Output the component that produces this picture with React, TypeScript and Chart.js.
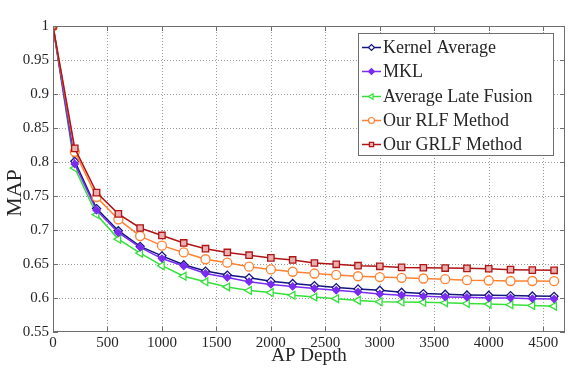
import React, { useEffect, useRef } from "react";
import { Chart, registerables } from "chart.js";
import { drawPoint } from "chart.js/helpers";

Chart.register(...registerables);

const depths = [0, 200, 400, 600, 800, 1000, 1200, 1400, 1600, 1800, 2000, 2200, 2400, 2600, 2800, 3000, 3200, 3400, 3600, 3800, 4000, 4200, 4400, 4600];
const kernelAverage = [1.0, 0.801, 0.7315, 0.699, 0.676, 0.662, 0.649, 0.6396, 0.6337, 0.6297, 0.6248, 0.6213, 0.6183, 0.6153, 0.6134, 0.6114, 0.6084, 0.6065, 0.6055, 0.6045, 0.604, 0.6035, 0.603, 0.6025];
const mkl = [1.0, 0.797, 0.729, 0.696, 0.6745, 0.658, 0.647, 0.636, 0.63, 0.624, 0.62, 0.617, 0.614, 0.6114, 0.609, 0.606, 0.604, 0.6025, 0.6015, 0.601, 0.6, 0.6, 0.599, 0.5985];
const averageLateFusion = [1.0, 0.791, 0.7227, 0.6866, 0.666, 0.6475, 0.632, 0.6238, 0.6163, 0.611, 0.608, 0.604, 0.6015, 0.599, 0.5965, 0.5945, 0.594, 0.5936, 0.593, 0.592, 0.591, 0.59, 0.589, 0.588];
const rlf = [1.0, 0.815, 0.7485, 0.7155, 0.691, 0.677, 0.667, 0.657, 0.652, 0.646, 0.642, 0.6386, 0.636, 0.634, 0.632, 0.6307, 0.6297, 0.6287, 0.6277, 0.6262, 0.6257, 0.625, 0.625, 0.6247];
const grlf = [1.0, 0.82, 0.755, 0.7237, 0.703, 0.692, 0.681, 0.6725, 0.667, 0.663, 0.659, 0.656, 0.6515, 0.6495, 0.6475, 0.6466, 0.645, 0.6445, 0.644, 0.6436, 0.643, 0.6417, 0.641, 0.6407];

const seriesLabels = ["Kernel Average", "MKL", "Average Late Fusion", "Our RLF Method", "Our GRLF Method"];
const xTicks = [0, 500, 1000, 1500, 2000, 2500, 3000, 3500, 4000, 4500];
const xTitle = "AP Depth";
const yTitle = "MAP";

const FONT = "'Liberation Serif', 'Times New Roman', serif";
const TEXT = "#262626";

const styles = [
  { color: "#14147f", fill: "#ffffff", pointStyle: "rectRot", radius: 4, rotation: 0, order: 4 },
  { color: "#7a2cf0", fill: "#7a2cf0", pointStyle: "rectRot", radius: 3.5, rotation: 0, order: 3 },
  { color: "#35e03a", fill: "#ffffff", pointStyle: "triangle", radius: 4.5, rotation: -90, order: 5 },
  { color: "#ff8232", fill: "#ffffff", pointStyle: "circle", radius: 4.5, rotation: 0, order: 2 },
  { color: "#b01414", fill: "#e8b0b0", pointStyle: "rect", radius: 4.5, rotation: 0, order: 1 },
];

const gridPlugin = {
  id: "dottedGrid",
  beforeDatasetsDraw(chart: any) {
    const { ctx, chartArea } = chart;
    const { left, right, top, bottom } = chartArea;
    const xs = chart.scales.x;
    const ys = chart.scales.y;
    ctx.save();
    ctx.strokeStyle = "#9c9c9c";
    ctx.lineWidth = 1;
    ctx.setLineDash([1, 2]);
    ctx.beginPath();
    xs.ticks.forEach((t: any) => {
      const px = Math.round(xs.getPixelForValue(t.value)) + 0.5;
      if (px <= left + 1 || px >= right - 1) return;
      ctx.moveTo(px, top);
      ctx.lineTo(px, bottom);
    });
    ys.ticks.forEach((t: any) => {
      const py = Math.round(ys.getPixelForValue(t.value)) + 0.5;
      if (py <= top + 1 || py >= bottom - 1) return;
      ctx.moveTo(left, py);
      ctx.lineTo(right, py);
    });
    ctx.stroke();
    ctx.restore();
  },
};

const frameAndLegend = {
  id: "frameAndLegend",
  afterDraw(chart: any) {
    const { ctx, chartArea } = chart;
    const { left, right, top, bottom } = chartArea;
    ctx.save();
    ctx.strokeStyle = "#6e6e6e";
    ctx.lineWidth = 1;
    ctx.setLineDash([]);
    ctx.strokeRect(left + 0.5, top + 0.5, right - left - 1, bottom - top - 1);
    const xs = chart.scales.x;
    const ys = chart.scales.y;
    ctx.beginPath();
    xs.ticks.forEach((t: any) => {
      const px = Math.round(xs.getPixelForValue(t.value)) + 0.5;
      ctx.moveTo(px, bottom);
      ctx.lineTo(px, bottom - 5);
      ctx.moveTo(px, top);
      ctx.lineTo(px, top + 5);
    });
    ys.ticks.forEach((t: any) => {
      const py = Math.round(ys.getPixelForValue(t.value)) + 0.5;
      ctx.moveTo(left, py);
      ctx.lineTo(left + 5, py);
      ctx.moveTo(right, py);
      ctx.lineTo(right - 5, py);
    });
    ctx.stroke();

    // y-axis title
    ctx.save();
    ctx.translate(15, (top + bottom) / 2 + 14);
    ctx.rotate(-Math.PI / 2);
    ctx.font = `22px ${FONT}`;
    ctx.fillStyle = TEXT;
    ctx.textAlign = "center";
    ctx.textBaseline = "middle";
    ctx.fillText(yTitle, 0, 0);
    ctx.restore();

    // legend
    const bx = 358, by = 33, bw = 195, bh = 122;
    ctx.fillStyle = "#ffffff";
    ctx.fillRect(bx, by, bw, bh);
    ctx.strokeStyle = "#6e6e6e";
    ctx.lineWidth = 1;
    ctx.strokeRect(bx + 0.5, by + 0.5, bw, bh);
    ctx.font = `18px ${FONT}`;
    ctx.textBaseline = "middle";
    ctx.textAlign = "left";
    chart.data.datasets.forEach((ds: any, i: number) => {
      const cy = Math.round(by + 14 + i * 24.3) + 0.5;
      ctx.strokeStyle = ds.borderColor;
      ctx.lineWidth = 1.5;
      ctx.beginPath();
      ctx.moveTo(bx + 4, cy);
      ctx.lineTo(bx + 23, cy);
      ctx.stroke();
      ctx.fillStyle = ds.pointBackgroundColor;
      ctx.strokeStyle = ds.borderColor;
      ctx.lineWidth = 1.2;
      drawPoint(ctx, { pointStyle: ds.pointStyle, rotation: ds.pointRotation, radius: 3, borderWidth: 1.2 } as any, bx + 13.5, cy);
      ctx.fillStyle = TEXT;
      ctx.fillText(ds.label, bx + 25, cy + 1);
    });
    ctx.restore();
  },
};

export default function App() {
  const ref = useRef<HTMLCanvasElement | null>(null);
  useEffect(() => {
    if (!ref.current) return;
    const series = [kernelAverage, mkl, averageLateFusion, rlf, grlf];
    const chart = new Chart(ref.current, {
      type: "line",
      data: {
        datasets: series.map((vals, i) => ({
          label: seriesLabels[i],
          data: depths.map((d, j) => ({ x: d, y: vals[j] })),
          borderColor: styles[i].color,
          backgroundColor: styles[i].fill,
          pointBackgroundColor: styles[i].fill,
          pointBorderColor: styles[i].color,
          pointStyle: styles[i].pointStyle as any,
          pointRadius: styles[i].radius,
          pointRotation: styles[i].rotation,
          pointBorderWidth: 1.3,
          borderWidth: 1.5,
          tension: 0,
          fill: false,
          order: styles[i].order,
        })),
      },
      options: {
        animation: false,
        responsive: false,
        devicePixelRatio: 1,
        layout: { padding: { top: 26, right: 11, left: 0, bottom: 0 } },
        plugins: { legend: { display: false }, tooltip: { enabled: false } },
        scales: {
          x: {
            type: "linear",
            min: 0,
            max: 4700,
            afterFit: (s: any) => { s.height = 43; },
            afterBuildTicks: (s: any) => { s.ticks = xTicks.map((v) => ({ value: v })); },
            ticks: { font: { family: FONT, size: 15 }, color: TEXT, padding: 2, maxRotation: 0, callback: (v: any) => String(v) },
            grid: { display: false, drawTicks: false },
            border: { display: false },
            title: { display: true, text: xTitle, font: { family: FONT, size: 19 }, color: TEXT, padding: { top: 0, bottom: 8 } },
          },
          y: {
            type: "linear",
            min: 0.55,
            max: 1,
            afterFit: (s: any) => { s.width = 53; },
            ticks: { stepSize: 0.05, font: { family: FONT, size: 15 }, color: TEXT, padding: 4, callback: (v: any) => String(Math.round(Number(v) * 100) / 100) },
            grid: { display: false, drawTicks: false },
            border: { display: false },
          },
        },
      } as any,
      plugins: [gridPlugin, frameAndLegend],
    });
    return () => chart.destroy();
  }, []);
  return (
    <div style={{ position: "fixed", left: 0, top: 0, width: 576, height: 375, background: "#fff" }}>
      <canvas ref={ref} width={576} height={375} />
    </div>
  );
}
